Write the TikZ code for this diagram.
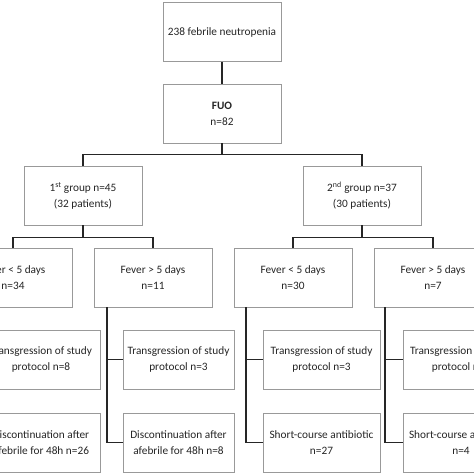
\documentclass[tikz,border=0pt]{standalone}
\usepackage{fontspec}
\setmainfont{Carlito}
\begin{document}
\begin{tikzpicture}[
    x = 1pt,
    y = -1pt,
    box/.style = {draw=black!40, line width=0.9pt, fill=white, align=center,
    minimum width=118pt, minimum height=59pt, inner sep=2pt,
    font=\fontsize{11.3}{16}\selectfont, text=black!85},
    link/.style = {draw=black!85, line width=1.8pt},
]
\useasboundingbox (0,0) rectangle (474,474);
\clip (0,0) rectangle (474,474);

\node[box] (top) at (222,32){238 febrile neutropenia};
\node[box] (fuo) at (222,113.5){\textbf{FUO}\\n=82};

\node[box] (grp_1) at (83,195.5){1\textsuperscript{st} group n=45\\(32 patients)};
\node[box] (grp_2) at (362,195.5){2\textsuperscript{nd} group n=37\\(30 patients)};

\node[box] (fev_1) at (13,277.5){Fever < 5 days\\n=34};
\node[box] (fev_2) at (153,277.5){Fever > 5 days\\n=11};
\node[box] (fev_3) at (293,277.5){Fever < 5 days\\n=30};
\node[box] (fev_4) at (433,277.5){Fever > 5 days\\n=7};

\node[box, minimum width=118pt] (tra_1) at (41,359.5){Transgression of study\\protocol n=8};
\node[box, minimum width=118pt] (dis_1) at (41,442.5){Discontinuation after\\afebrile for 48h n=26};
\node[box, minimum width=111pt] (tra_2) at (178.5,359.5){Transgression of study\\protocol n=3};
\node[box, minimum width=111pt] (dis_2) at (178.5,442.5){Discontinuation after\\afebrile for 48h n=8};
\node[box, minimum width=117pt] (tra_3) at (321.5,359.5){Transgression of study\\protocol n=3};
\node[box, minimum width=117pt] (dis_3) at (321.5,442.5){Short-course antibiotic\\n=27};
\node[box, minimum width=116pt] (tra_4) at (461,359.5){Transgression of study\\protocol n=3};
\node[box, minimum width=116pt] (dis_4) at (461,442.5){Short-course antibiotic\\n=4};

\draw[link] (top) -- (fuo);

\draw[link] (fuo.south) -- ++(0,11) coordinate (split_0);
\draw[link] (grp_1.north) |- (split_0) -| (grp_2.north);

\draw[link] (grp_1.south) -- ++(0,12) coordinate (split_1);
\draw[link] (fev_1.north) |- (split_1) -| (fev_2.north);
\draw[link] (grp_2.south) -- ++(0,12) coordinate (split_2);
\draw[link] (fev_3.north) |- (split_2) -| (fev_4.north);

% side branches
\coordinate (side_1) at ([xshift=-47pt]fev_1.south);
\coordinate (side_2) at ([xshift=-46pt]fev_2.south);
\coordinate (side_3) at ([xshift=-47pt]fev_3.south);
\coordinate (side_4) at ([xshift=-48pt]fev_4.south);
\draw[link] (side_1) |- (dis_1.west);
\draw[link] (side_1 |- tra_1.west) -- (tra_1.west);
\draw[link] (side_2) |- (dis_2.west);
\draw[link] (side_2 |- tra_2.west) -- (tra_2.west);
\draw[link] (side_3) |- (dis_3.west);
\draw[link] (side_3 |- tra_3.west) -- (tra_3.west);
\draw[link] (side_4) |- (dis_4.west);
\draw[link] (side_4 |- tra_4.west) -- (tra_4.west);

\end{tikzpicture}
\end{document}
